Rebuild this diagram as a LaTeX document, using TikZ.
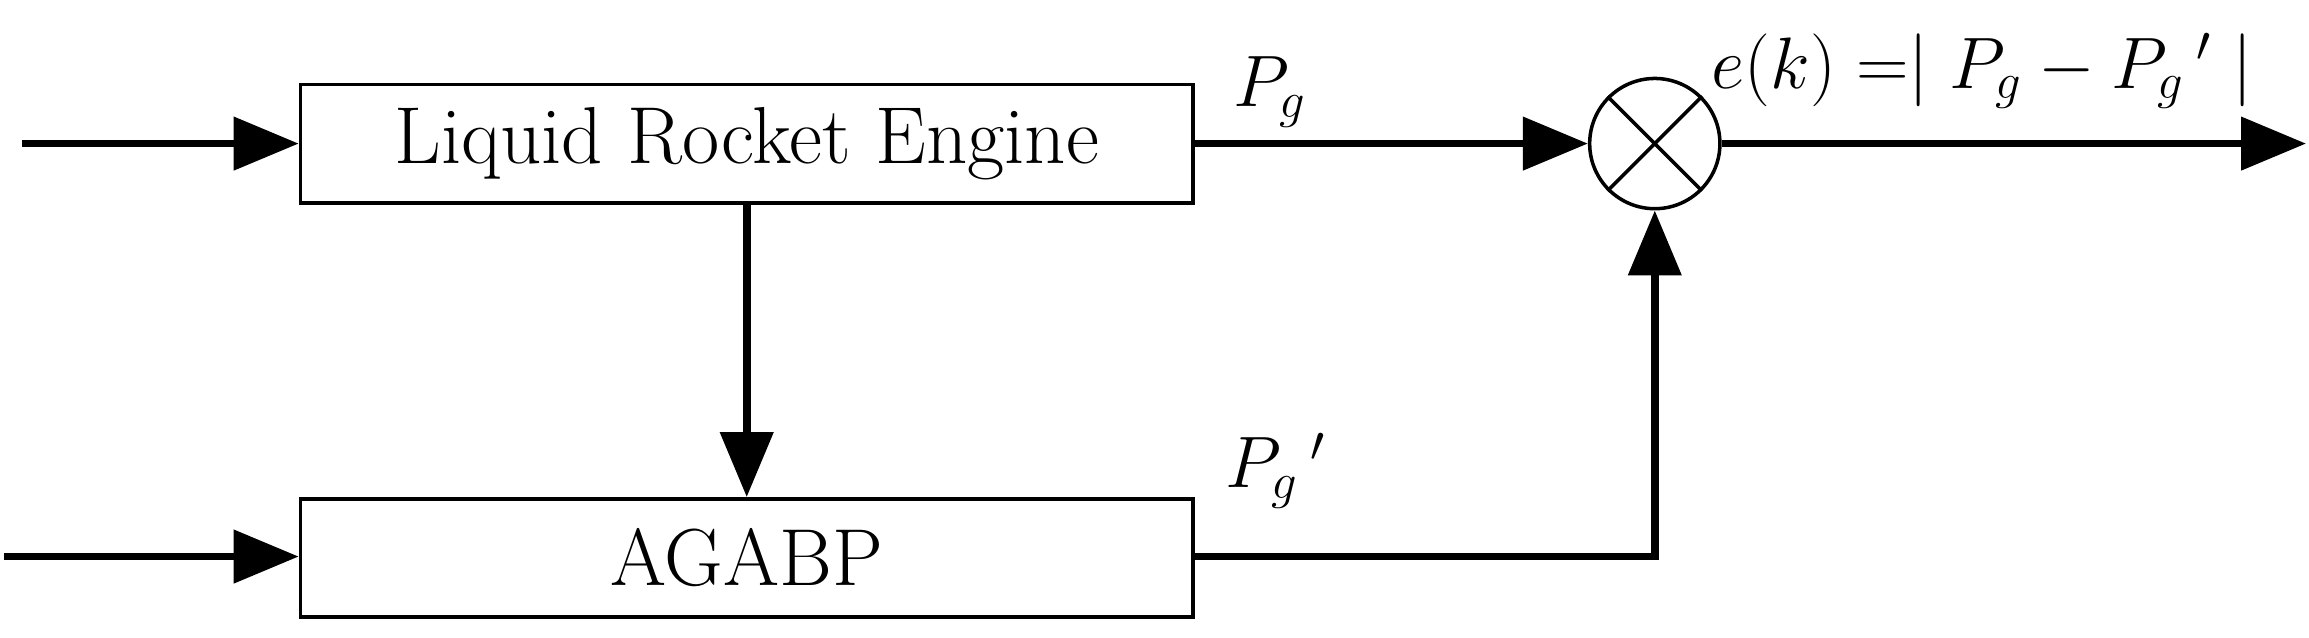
\documentclass[tikz,border=0pt]{standalone}
\usetikzlibrary{arrows.meta}
\begin{document}
\begin{tikzpicture}[x=0.0148cm,y=-0.0148cm,
  blk/.style={draw,line width=1pt,minimum width=603*0.0148cm,minimum height=80*0.0148cm,font=\fontsize{23}{26}\selectfont},
  sig/.style={line width=2.2pt,-{Triangle[length=0.65cm,width=0.52cm]}},
  lbl/.style={font=\fontsize{22}{26}\selectfont}]
\useasboundingbox (0,0) rectangle (1560,431);
\node[blk] (lre) at (504.5,97) {Liquid Rocket Engine};
\node[blk] (ag) at (504.5,377) {AGABP};
\node[draw,circle,line width=1pt,minimum size=88*0.0148cm,inner sep=0] (mul) at (1118,97) {};
\draw[line width=1pt] (mul.north west) -- (mul.south east) (mul.north east) -- (mul.south west);
\coordinate (in1) at (15,97);
\coordinate (in2) at (3,376);
\coordinate (out) at (1558,97);
\draw[sig] (in1) -- (lre.west);
\draw[sig] (in2) -- (ag.west |- in2);
\draw[sig] (lre.south) -- (ag.north);
\draw[sig] (lre.east) -- (mul.west);
\draw[sig] (mul.east) -- (out);
\draw[sig] (ag.east |- in2) -| (mul.south);
\node[lbl] (l1) at (858,62) {$P_g$};
\node[lbl] (l2) at (862,318) {$P_g\,'$};
\node[lbl,anchor=west] (l3) at (1148,48) {$e(k)=\mid P_g-P_g\,'\mid$};
\end{tikzpicture}
\end{document}
